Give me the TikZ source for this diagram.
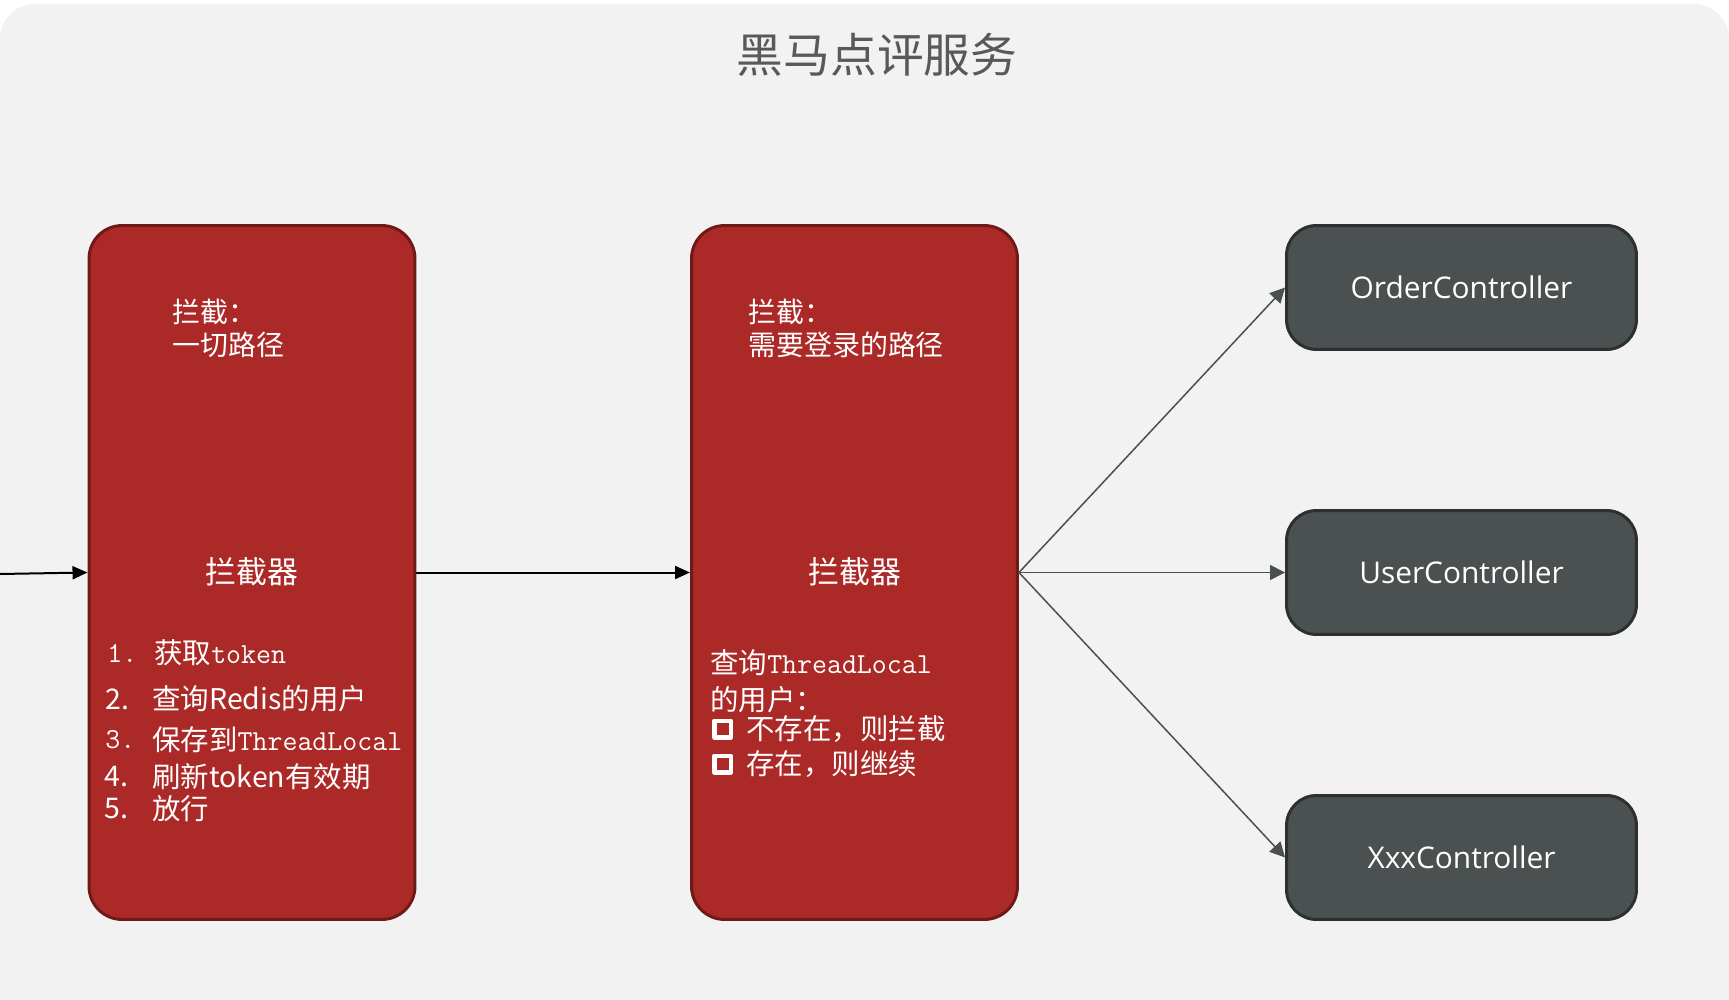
\documentclass[tikz,border=0pt]{standalone}
\usepackage{fontspec}
\setmainfont{Noto Sans CJK SC}
\newfontfamily\latfont{Open Sans}
\newfontfamily\monofont[Scale=1.02]{Latin Modern Mono}
\usetikzlibrary{arrows.meta}
\definecolor{bggray}{RGB}{242,242,242}
\definecolor{boxred}{RGB}{171,41,38}
\definecolor{edgered}{RGB}{112,26,24}
\definecolor{boxgray}{RGB}{75,80,80}
\definecolor{edgegray}{RGB}{44,48,48}
\definecolor{linegray}{RGB}{74,79,80}
\definecolor{titlegray}{RGB}{89,89,89}

\begin{document}
\begin{tikzpicture}[line cap=round,line join=round,x=0.02cm,y=-0.02cm,
  redbox/.style={draw=edgered,line width=0.06cm,fill=boxred,rounded corners=0.66cm,minimum width=6.52cm,minimum height=13.88cm,inner sep=0},
  ctrlbox/.style={draw=edgegray,line width=0.06cm,fill=boxgray,rounded corners=0.6cm,minimum width=7cm,minimum height=2.48cm,text=white,font=\latfont\fontsize{17}{20}\selectfont},
  hdr/.style={anchor=west,inner sep=0,text=white,align=left,font=\fontsize{15.9}{18.7}\selectfont},
  mid/.style={text=white,inner sep=0,font=\fontsize{17.6}{21}\selectfont},
  item/.style={anchor=west,inner sep=0,text=white,font=\fontsize{16.2}{19}\selectfont},
  seritem/.style={item,font=\fontsize{16.2}{19}\selectfont},
  chkitem/.style={anchor=west,inner sep=0,text=white,font=\fontsize{16.2}{19}\selectfont},
  chk/.style={draw=white,line width=0.09cm,minimum size=0.33cm,inner sep=0},
  flow/.style={-{Triangle[length=0.3cm,width=0.26cm]},line width=0.04cm,black},
  fan/.style={-{Triangle[length=0.3cm,width=0.3cm]},line width=0.03cm,linegray}]
\useasboundingbox (0,0) rectangle (1729,1000);
\fill[white] (0,0) rectangle (1729,1000);
\fill[bggray,rounded corners=0.7cm] (0,4) rectangle (1729,1060);
\node[text=titlegray,font=\fontsize{26.6}{30}\selectfont] (svc) at (877,55) {黑马点评服务};
% interceptors
\node[redbox] (tokenfilter) at (252,572.5) {};
\node[redbox] (loginfilter) at (854.5,572.5) {};
\node[hdr] (tokenhdr) at (172,328.5) {拦截：\\一切路径};
\node[hdr] (loginhdr) at (748,328.5) {拦截：\\需要登录的路径};
\node[mid] (tokenname) at (252,572) {拦截器};
\node[mid] (loginname) at (855,572) {拦截器};
% steps of the first one
\node[seritem] (n1) at (107,653) {\monofont 1.};
\node[seritem] (s1) at (154,653) {获取\monofont token};
\node[item] (n2) at (105,699) {2.};
\node[item] (s2) at (152,699) {查询Redis的用户};
\node[seritem] (n3) at (105,740) {\monofont 3.};
\node[seritem] (s3) at (152,740) {保存到\monofont ThreadLocal};
\node[item] (n4) at (104,777) {4.};
\node[item] (s4) at (152,777) {刷新token有效期};
\node[item] (n5) at (104,809) {5.};
\node[item] (s5) at (152,809) {放行};
% check of the second one
\node[chkitem] (q1) at (710,663) {查询\monofont ThreadLocal};
\node[chkitem] (q2) at (710,700) {的用户：};
\node[chk] (b1) at (722.5,729) {};
\node[chkitem] (c1) at (746,729) {不存在，则拦截};
\node[chk] (b2) at (722.5,764) {};
\node[chkitem] (c2) at (746,764) {存在，则继续};
% controllers
\node[ctrlbox] (orderctl) at (1461.5,287.5) {OrderController};
\node[ctrlbox] (userctl) at (1461.5,572.5) {UserController};
\node[ctrlbox] (xxxctl) at (1461.5,857.5) {XxxController};
\coordinate (req) at (0,574);
\draw[flow] (req) -- (tokenfilter.west);
\draw[flow] (tokenfilter.east) -- (loginfilter.west);
\draw[fan] (loginfilter.east) -- (orderctl.west);
\draw[fan] (loginfilter.east) -- (userctl.west);
\draw[fan] (loginfilter.east) -- (xxxctl.west);
\end{tikzpicture}
\end{document}
